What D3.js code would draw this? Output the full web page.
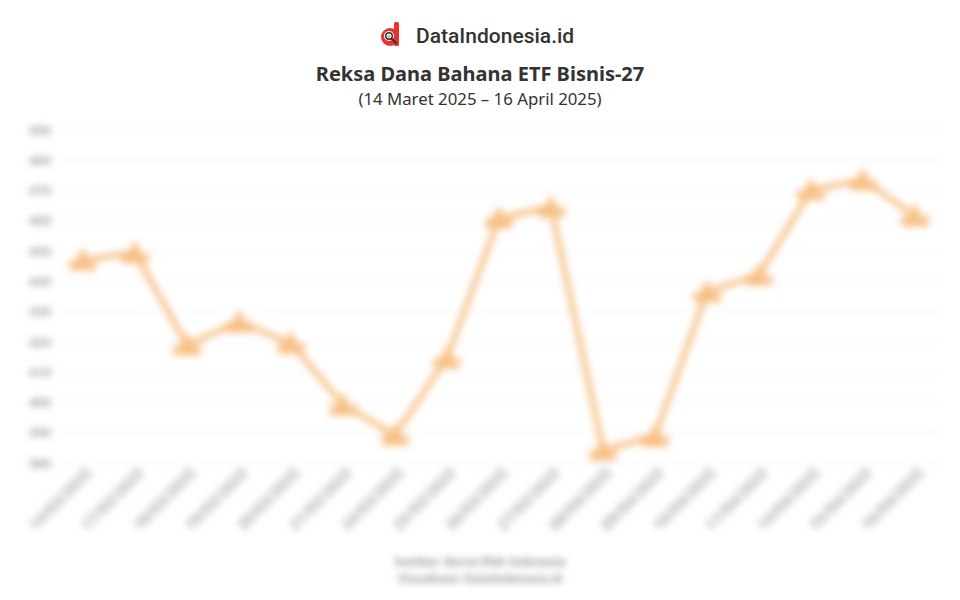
<!DOCTYPE html>
<html>
<head>
<meta charset="utf-8">
<script src="https://cdn.jsdelivr.net/npm/d3@7"></script>
<style>
  html, body { margin: 0; padding: 0; background: #fff; }
  svg { display: block; }
</style>
</head>
<body>
<svg id="chart" width="960" height="600"></svg>
<script>
// ---- data ----
const dates = ["14/03/2025","17/03/2025","18/03/2025","19/03/2025","20/03/2025","21/03/2025",
  "24/03/2025","25/03/2025","26/03/2025","27/03/2025","08/04/2025","09/04/2025","10/04/2025",
  "11/04/2025","14/04/2025","15/04/2025","16/04/2025"];
const nav = [447.1, 449.4, 419.0, 426.6, 419.6, 399.2, 389.3, 414.7, 460.9, 464.6,
  384.3, 388.9, 436.5, 442.1, 470.2, 473.5, 461.6];
const yTicks = [380, 390, 400, 410, 420, 430, 440, 450, 460, 470, 480, 490];
const titleText = "Reksa Dana Bahana ETF Bisnis-27";
const subtitleText = "(14 Maret 2025 \u2013 16 April 2025)";
const brandText = "DataIndonesia.id";
const footerLines = ["Sumber: Bursa Efek Indonesia", "Visualisasi: DataIndonesia.id"];

const W = 960, H = 600;
const margin = { top: 130, right: 19, bottom: 137, left: 57 };
const svg = d3.select("#chart");

const defs = svg.append("defs");
defs.append("filter").attr("id", "blur")
  .attr("x", "-5%").attr("y", "-5%").attr("width", "110%").attr("height", "110%")
  .append("feGaussianBlur").attr("stdDeviation", 3.8);

// ---- header ----
const logo = svg.append("g").attr("transform", "translate(390,36)");
logo.append("rect").attr("x", 4).attr("y", -14).attr("width", 5).attr("height", 24).attr("rx", 1.5).attr("fill", "#e8322f");
logo.append("circle").attr("r", 9).attr("cx", 0).attr("cy", 1).attr("fill", "#e8322f");
logo.append("circle").attr("r", 5).attr("cx", -1).attr("cy", 0).attr("fill", "#fff");
logo.append("circle").attr("r", 3.3).attr("cx", -1).attr("cy", 0).attr("fill", "none").attr("stroke", "#333").attr("stroke-width", 1.4);
logo.append("rect").attr("x", -2.5).attr("y", -0.5).attr("width", 1.2).attr("height", 2).attr("fill", "#2e9be0");
logo.append("rect").attr("x", -1).attr("y", -1.5).attr("width", 1.2).attr("height", 3).attr("fill", "#f4b400");
logo.append("line").attr("x1", 1.5).attr("y1", 2.5).attr("x2", 6).attr("y2", 7).attr("stroke", "#333").attr("stroke-width", 2).attr("stroke-linecap", "round");

svg.append("text").attr("x", 416).attr("y", 43)
  .attr("font-family", "Roboto, sans-serif").attr("font-weight", 500).attr("font-size", 21)
  .attr("fill", "#333").text(brandText);

svg.append("text").attr("x", W / 2).attr("y", 81).attr("text-anchor", "middle")
  .attr("font-family", "'Noto Sans', sans-serif").attr("font-weight", 700).attr("font-size", 20)
  .attr("fill", "#333").text(titleText);
svg.append("text").attr("x", W / 2).attr("y", 105).attr("text-anchor", "middle")
  .attr("font-family", "'Noto Sans', sans-serif").attr("font-weight", 400).attr("font-size", 16.8)
  .attr("fill", "#333").text(subtitleText);

// ---- scales ----
const x = d3.scalePoint().domain(dates).range([margin.left, W - margin.right]).padding(0.5);
const y = d3.scaleLinear().domain([yTicks[0], yTicks[yTicks.length - 1]])
  .range([H - margin.bottom, margin.top]);

const plot = svg.append("g").attr("filter", "url(#blur)");

// grid
plot.append("g").selectAll("line").data(yTicks).join("line")
  .attr("x1", margin.left - 30).attr("x2", W - margin.right)
  .attr("y1", d => y(d)).attr("y2", d => y(d))
  .attr("stroke", "#ececec").attr("stroke-width", 1);

// y axis
const yAxis = d3.axisLeft(y).tickValues(yTicks).tickSize(0).tickPadding(6);
const yg = plot.append("g").attr("transform", `translate(${margin.left},0)`).call(yAxis);
yg.select(".domain").remove();
yg.selectAll("text").attr("font-family", "'Noto Sans', sans-serif").attr("font-size", 13)
  .attr("font-weight", 700).attr("fill", "#a8a8a8");

// x axis
const xAxis = d3.axisBottom(x).tickSize(0).tickPadding(0);
const xg = plot.append("g").attr("transform", `translate(0,${H - margin.bottom + 13})`).call(xAxis);
xg.select(".domain").remove();
xg.selectAll("text")
  .attr("font-family", "'Noto Sans', sans-serif").attr("font-size", 15).attr("font-weight", 700)
  .attr("fill", "#b0b0b0")
  .attr("text-anchor", "end").attr("y", 0).attr("dy", "0.35em").attr("x", 8)
  .attr("transform", "rotate(-45)");

// line
const data = dates.map((d, i) => ({ d, v: nav[i] }));
plot.append("path").datum(data)
  .attr("fill", "none").attr("stroke", "#f8c690").attr("stroke-width", 6)
  .attr("stroke-linejoin", "round")
  .attr("d", d3.line().x(p => x(p.d)).y(p => y(p.v)));

plot.append("g").selectAll("path").data(data).join("path")
  .attr("transform", p => `translate(${x(p.d)},${y(p.v) + 3})`)
  .attr("d", d3.symbol().type(d3.symbolTriangle).size(320))
  .attr("fill", "#f8c690");

plot.append("g").selectAll("text").data(data).join("text")
  .attr("x", p => x(p.d)).attr("y", p => y(p.v) + 8)
  .attr("text-anchor", "middle")
  .attr("font-family", "'Noto Sans', sans-serif").attr("font-size", 12).attr("font-weight", 700)
  .attr("fill", "#f6b877").text(p => p.v.toFixed(1));

// footer
const foot = svg.append("g").attr("filter", "url(#blur)");
foot.selectAll("text").data(footerLines).join("text")
  .attr("x", W / 2).attr("y", (d, i) => 566 + i * 17).attr("text-anchor", "middle")
  .attr("font-family", "'Noto Sans', sans-serif").attr("font-size", 11.5).attr("font-weight", 700)
  .attr("fill", "#999")
  .text(d => d);
</script>
</body>
</html>
